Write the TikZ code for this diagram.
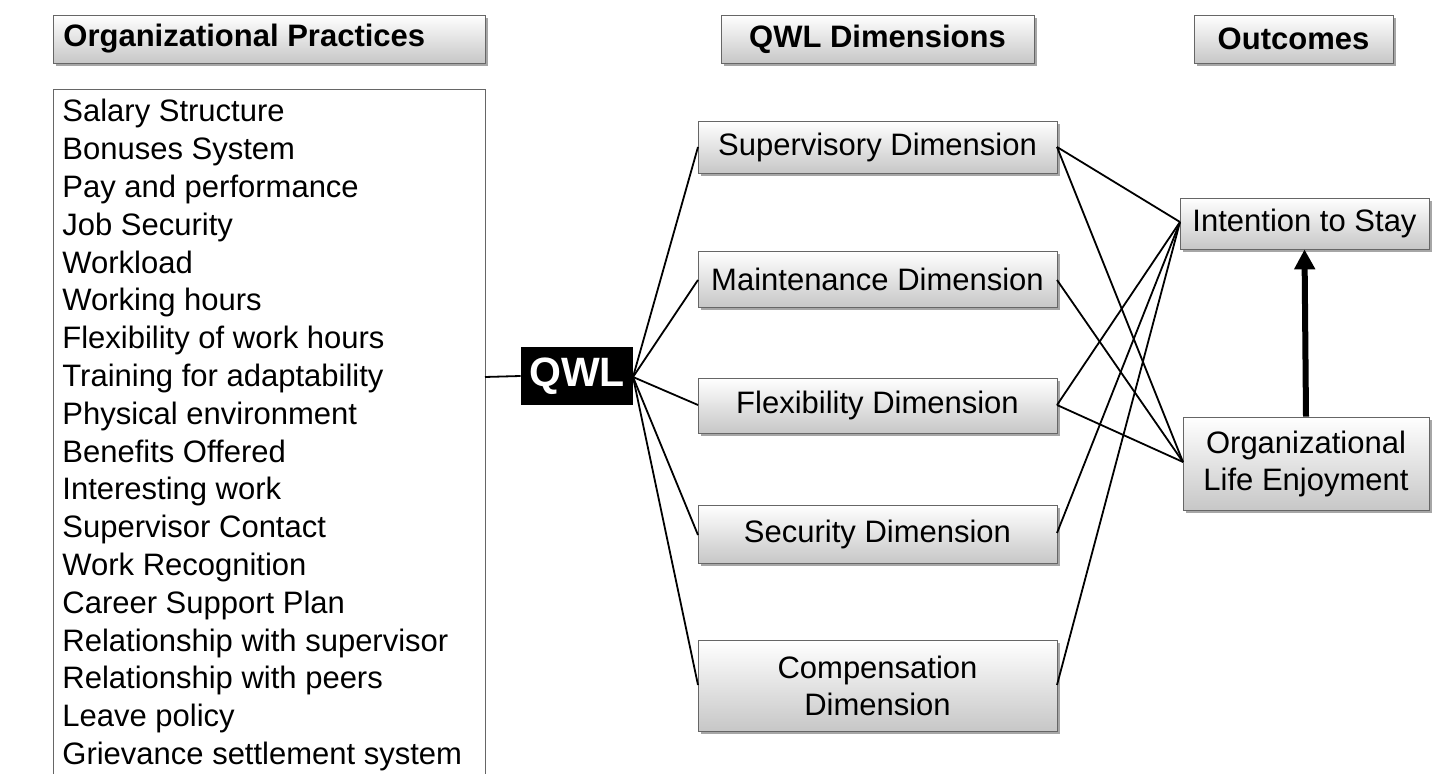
\documentclass[tikz,border=0pt]{standalone}
\usepackage{fontspec}
\setmainfont{Liberation Sans}
\usetikzlibrary{arrows.meta}
\begin{document}
\begin{tikzpicture}[x=0.5pt,y=-0.5pt,
  gbox/.style={draw=black!60,top color=white,bottom color=black!22,inner sep=0pt,font=\fontsize{15.5}{18.5}\selectfont,align=center},
  ln/.style={draw=black,line width=0.9pt}]
\useasboundingbox (0,0) rectangle (1452,774);
\newcommand{\gb}[6]{% name, x1,y1,x2,y2, text
  \fill[black!35] (#2+3,#3+3) rectangle (#4+3,#5+3);
  \node[gbox,minimum width=(#4-#2)*0.5pt,minimum height=(#5-#3)*0.5pt] (#1) at ({(#2+#4)/2},{(#3+#5)/2}) {#6};}
\gb{h1}{53}{15}{485}{63}{}
\node[anchor=west,inner sep=0pt,font=\fontsize{15.5}{18}\selectfont\bfseries] (h1t) at (63,39) {Organizational Practices};
\gb{h2}{721}{15}{1034}{63}{\bfseries QWL Dimensions}
\gb{h3}{1194}{15}{1393}{63}{\bfseries Outcomes}
\draw[black!60] (53,774) -- (53,89) -- (485,89) -- (485,774);
\coordinate (listr) at (485,377);
\foreach \t [count=\i from 0] in {Salary Structure,Bonuses System,Pay and performance,Job Security,Workload,Working hours,Flexibility of work hours,Training for adaptability,Physical environment,Benefits Offered,Interesting work,Supervisor Contact,Work Recognition,Career Support Plan,Relationship with supervisor,Relationship with peers,Leave policy,Grievance settlement system}
  \node[anchor=base west,inner sep=0pt,font=\fontsize{15.5}{18}\selectfont] (it\i) at (62,{122+37.8*\i}) {\t};
\node[fill=black,text=white,font=\fontsize{20.5}{24}\selectfont\bfseries,minimum width=56pt,minimum height=29pt,inner sep=0pt] (qwl) at (577,376) {QWL};
\draw[ln] (listr) -- (qwl.west);
\gb{d1}{698}{121}{1057}{173}{Supervisory Dimension}
\gb{d2}{698}{251}{1057}{307}{Maintenance Dimension}
\gb{d3}{698}{378}{1057}{433}{Flexibility Dimension}
\gb{d4}{698}{505}{1057}{563}{Security Dimension}
\gb{d5}{698}{640}{1057}{731}{Compensation\\Dimension}
\gb{o1}{1180}{198}{1429}{249}{Intention to Stay}
\gb{o2}{1183}{417}{1429}{510}{Organizational\\Life Enjoyment}
\coordinate (q) at (633,377);
\coordinate (d1l) at (698,147); \coordinate (d2l) at (698,280); \coordinate (d3l) at (698,405);
\coordinate (d4l) at (698,535); \coordinate (d5l) at (698,685);
\coordinate (d1r) at (1057,147); \coordinate (d2r) at (1057,280); \coordinate (d3r) at (1057,405);
\coordinate (d4r) at (1057,533); \coordinate (d5r) at (1057,685);
\coordinate (i) at (1180,222); \coordinate (e) at (1183,462);
\foreach \d in {d1l,d2l,d3l,d4l,d5l} \draw[ln] (q) -- (\d);
\draw[ln] (d1r) -- (i); \draw[ln] (d1r) -- (e);
\draw[ln] (d2r) -- (e);
\draw[ln] (d3r) -- (i); \draw[ln] (d3r) -- (e);
\draw[ln] (d4r) -- (i); \draw[ln] (d5r) -- (i);
\draw[line width=3pt,-{Triangle[length=10pt,width=10pt]}] (o2.north) -- (o1.south);
\end{tikzpicture}
\end{document}
